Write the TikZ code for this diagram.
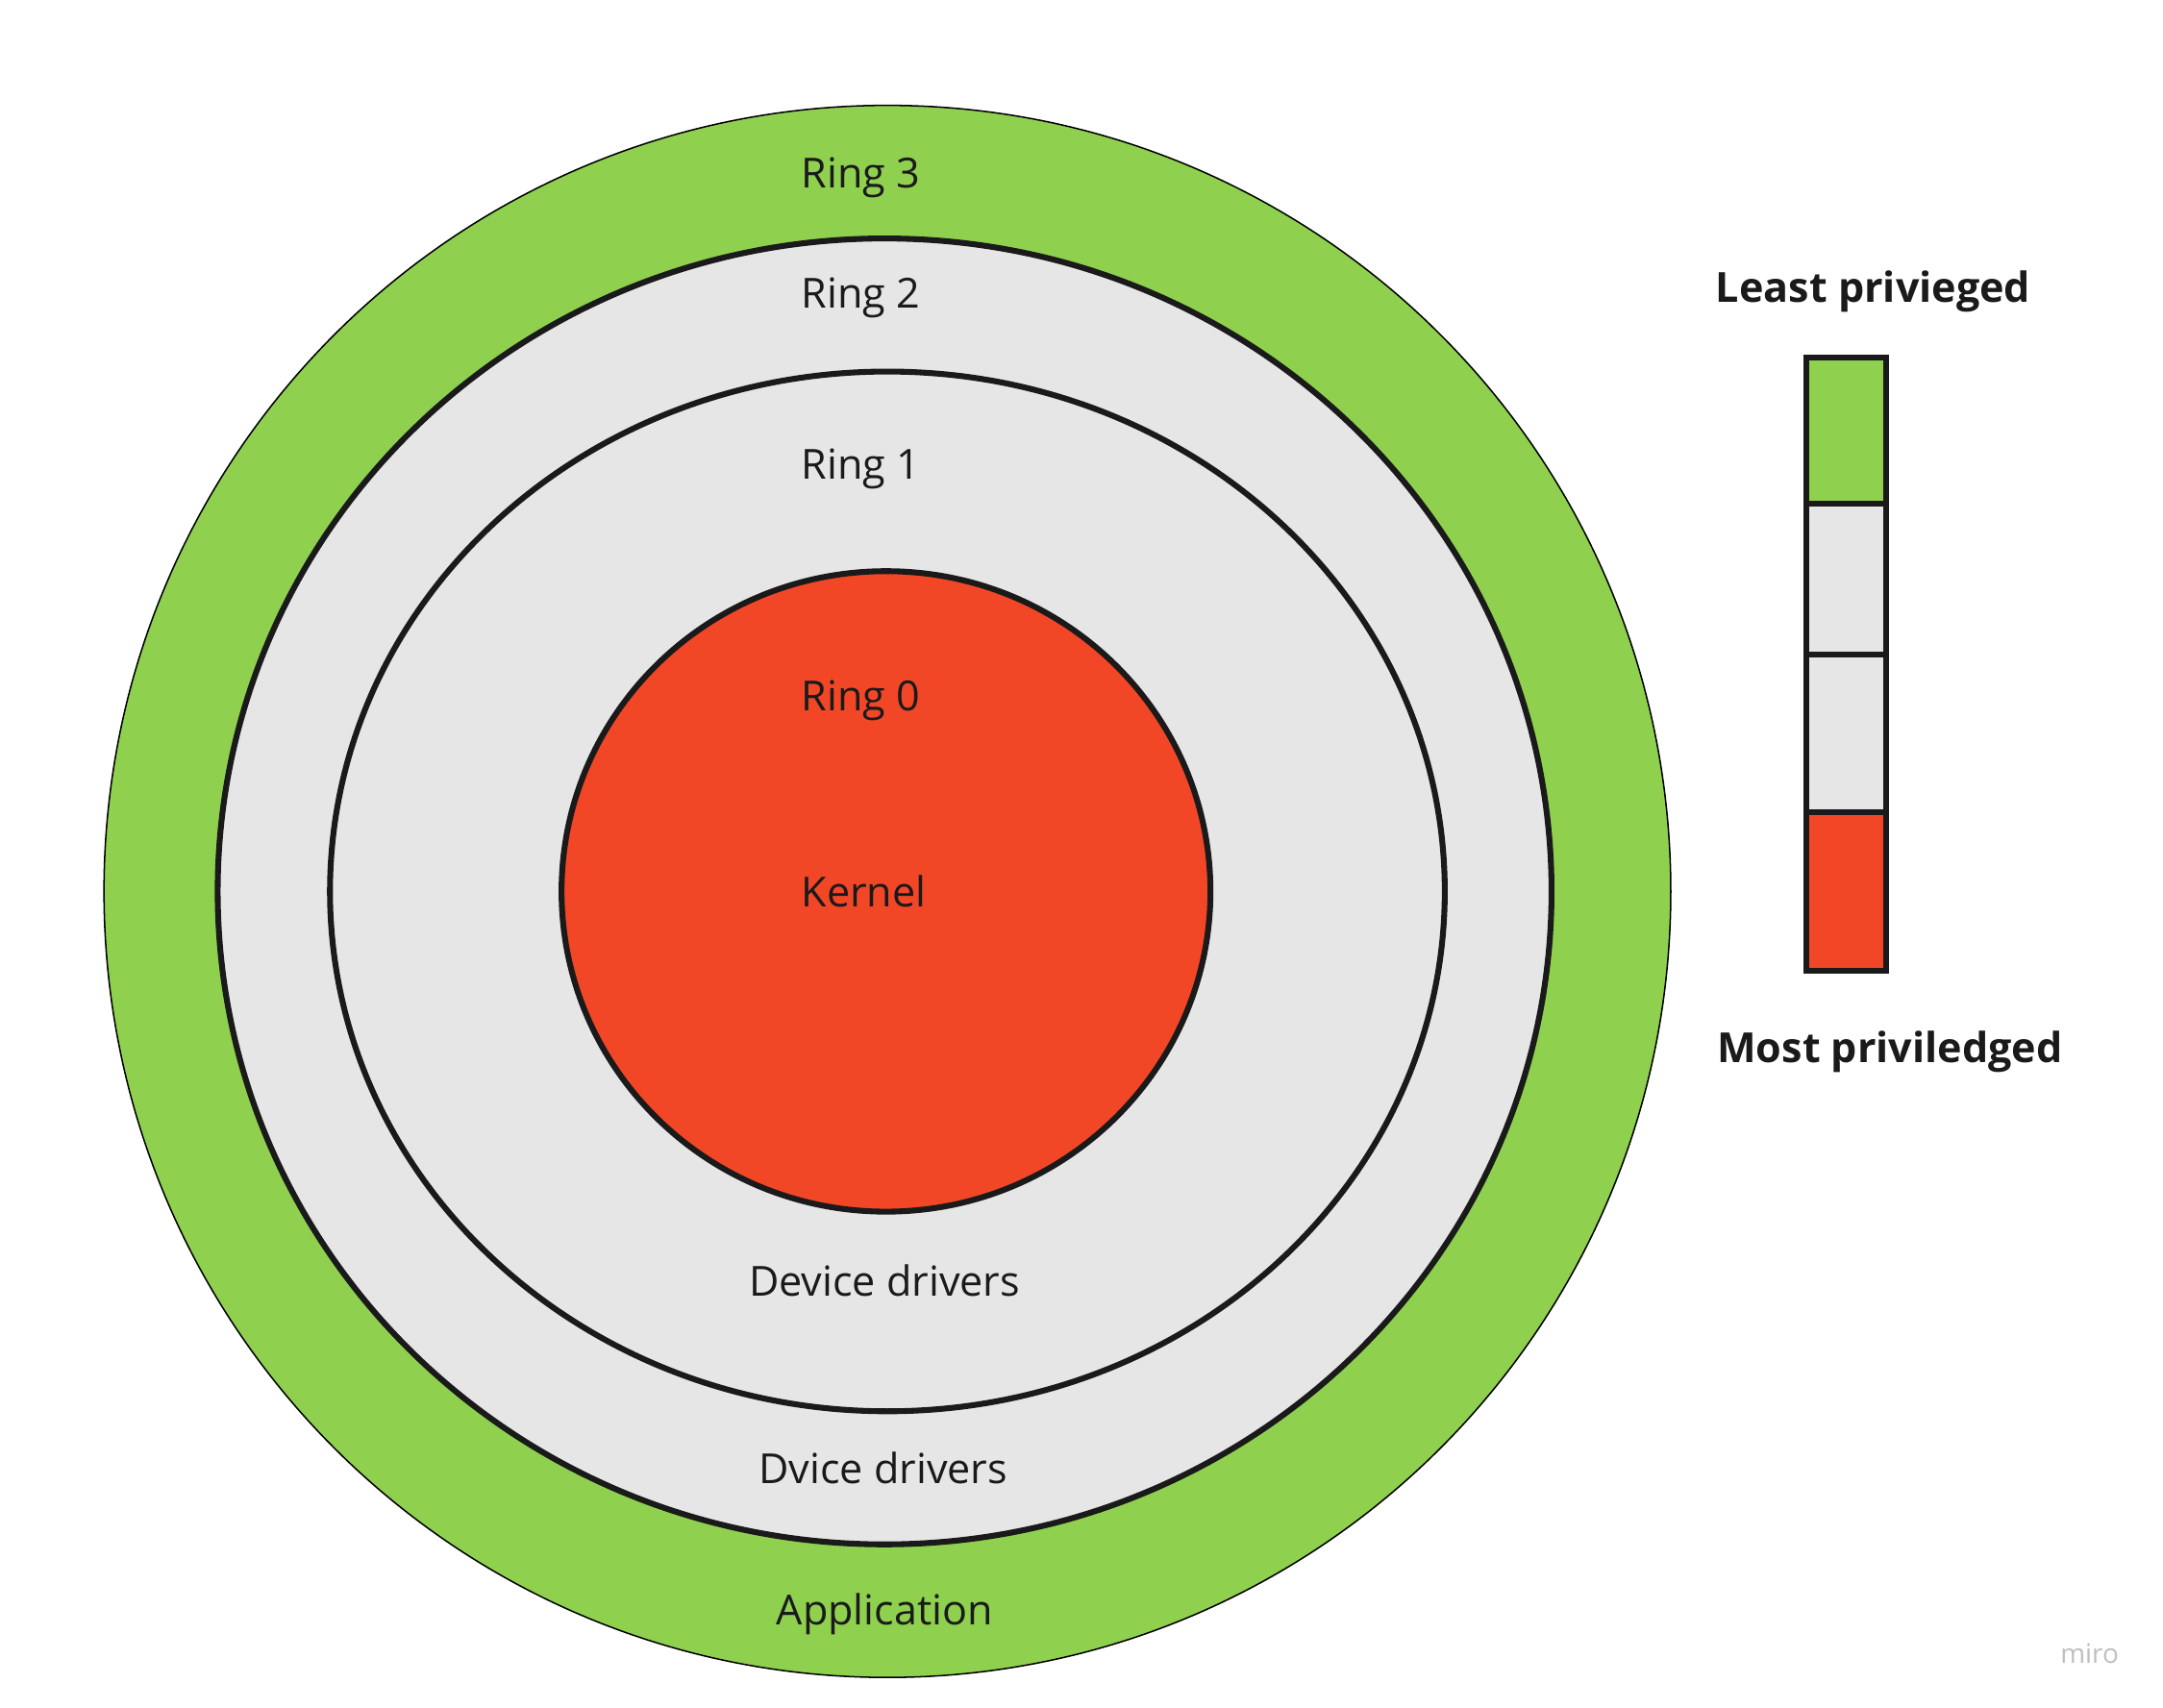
\documentclass[tikz,border=0pt]{standalone}
\usepackage{fontspec}
\setmainfont{Open Sans}
\definecolor{grn}{HTML}{8FD14F}
\definecolor{gry}{HTML}{E6E6E6}
\definecolor{rd}{HTML}{F24726}
\definecolor{dk}{HTML}{1A1A1A}
\begin{document}
\begin{tikzpicture}[x=0.02cm,y=-0.02cm,
  ring/.style={draw=dk,line width=2.4pt},
  lbl/.style={font=\fontsize{17}{20}\selectfont,text=dk},
  blbl/.style={font=\fontsize{17}{20}\selectfont\bfseries,text=dk}]
\useasboundingbox (0,0) rectangle (1560,1232);
\fill[white] (0,0) rectangle (1560,1232);
\draw[fill=grn,draw=black,line width=0.6pt] (640,643) ellipse [x radius=565,y radius=567];
\draw[ring,fill=gry] (638,643) ellipse [x radius=481,y radius=471];
\draw[ring,fill=gry] (640,643) ellipse [x radius=402,y radius=375];
\draw[ring,fill=rd] (639,643) ellipse [x radius=234,y radius=231];
\node[lbl] (r3) at (621,128) {Ring 3};
\node[lbl] (r2) at (621,215) {Ring 2};
\node[lbl] (r1) at (621,338) {Ring 1};
\node[lbl] (r0) at (621,505) {Ring 0};
\node[lbl] (k) at (623,643) {Kernel};
\node[lbl] (d1) at (638,924) {Device drivers};
\node[lbl] (d2) at (637,1059) {Dvice drivers};
\node[lbl] (ap) at (638,1164) {Application};
\draw[ring,fill=grn] (1303,258) rectangle (1360,363);
\draw[ring,fill=gry] (1303,363) rectangle (1360,472);
\draw[ring,fill=gry] (1303,472) rectangle (1360,586);
\draw[ring,fill=rd] (1303,586) rectangle (1360,700);
\node[blbl] (lp) at (1351,210) {Least privieged};
\node[blbl] (mp) at (1363,759) {Most priviledged};
\node[font=\fontsize{11}{13}\selectfont,text=gray!50] (m) at (1507,1193) {miro};
\end{tikzpicture}
\end{document}
